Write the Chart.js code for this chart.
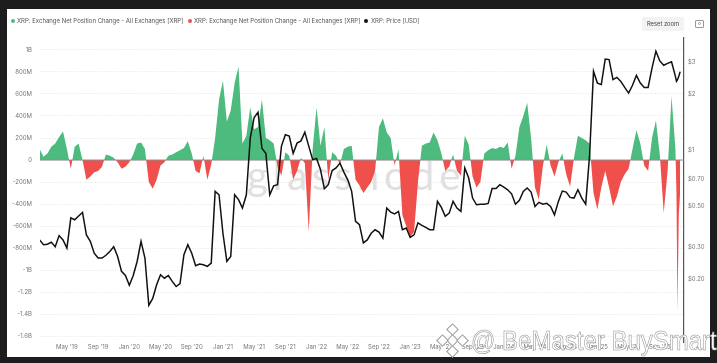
<!DOCTYPE html>
<html>
<head>
<meta charset="utf-8">
<script src="https://cdn.jsdelivr.net/npm/chart.js@4.4.1/dist/chart.umd.min.js"></script>
<style>
html, body { margin: 0; padding: 0; background: #1d1d1d; }
body { width: 717px; height: 363px; position: relative; overflow: hidden; font-family: Inter, 'Noto Sans', sans-serif; }
#panel { position: absolute; left: 7px; top: 9px; width: 703px; height: 348px; background: #fff; }
#wm { position: absolute; left: 240px; top: 146px; font-family: Lato, sans-serif; font-size: 40px; line-height: 40px; color: #e0e0e0; letter-spacing: 5px; white-space: nowrap; }
#box { position: absolute; left: 0; top: 0; width: 703px; height: 348px; }
.leg { position: absolute; top: 8px; font-size: 6px; line-height: 8px; color: #555; white-space: nowrap; }
.dot { position: absolute; top: 10px; width: 4px; height: 4px; border-radius: 50%; }
#reset { position: absolute; left: 635px; top: 8px; width: 42px; height: 14px; background: #f3f3f3; border-radius: 2px; font-size: 5.8px; line-height: 14px; text-align: center; color: #444; }
#cam { position: absolute; left: 688px; top: 11px; width: 7px; height: 6px; border: 1px solid #999; border-radius: 1px; }
#cam:after { content: ''; position: absolute; left: 1.5px; top: 1px; width: 3px; height: 3px; border: 0.8px solid #999; border-radius: 50%; box-sizing: border-box; }
#bm { position: absolute; left: 471px; top: 325px; font-family: 'Liberation Sans', sans-serif; font-size: 24px; line-height: 27px; color: #fff; -webkit-text-stroke: 0.5px #8f8f8f; white-space: nowrap; transform: scaleY(1.15); transform-origin: left top; }
.bn { position: absolute; width: 7px; height: 7px; background: #fff; border: 0.8px solid #999; transform: rotate(45deg); }
</style>
</head>
<body>
<div id="panel">
  <div id="wm">glassnode</div>
  <div id="box"><canvas id="chart"></canvas></div>
  <div class="dot" style="left:4px;background:#4dba7e"></div>
  <div class="leg" style="left:10px">XRP: Exchange Net Position Change - All Exchanges [XRP]</div>
  <div class="dot" style="left:181px;background:#f0504b"></div>
  <div class="leg" style="left:187px">XRP: Exchange Net Position Change - All Exchanges [XRP]</div>
  <div class="dot" style="left:357px;background:#111"></div>
  <div class="leg" style="left:364px">XRP: Price [USD]</div>
  <div id="reset">Reset zoom</div>
  <div id="cam"></div>
</div>
<div class="bn" style="left:448px;top:336px"></div>
<div class="bn" style="left:448px;top:325px"></div>
<div class="bn" style="left:448px;top:347px"></div>
<div class="bn" style="left:438px;top:336px"></div>
<div class="bn" style="left:458px;top:336px"></div>
<div id="bm">@ BeMaster BuySmart</div>
<script>
// sample dates (1st and 16th of each month, extra points for the last spike)
const dates = [
  '2019-01-16','2019-02-01','2019-02-16','2019-03-01','2019-03-16','2019-04-01','2019-04-16','2019-05-01','2019-05-16','2019-06-01','2019-06-16','2019-07-01','2019-07-16','2019-08-01','2019-08-16','2019-09-01','2019-09-16','2019-10-01','2019-10-16','2019-11-01','2019-11-16','2019-12-01','2019-12-16',
  '2020-01-01','2020-01-16','2020-02-01','2020-02-16','2020-03-01','2020-03-16','2020-04-01','2020-04-16','2020-05-01','2020-05-16','2020-06-01','2020-06-16','2020-07-01','2020-07-16','2020-08-01','2020-08-16','2020-09-01','2020-09-16','2020-10-01','2020-10-16','2020-11-01','2020-11-16','2020-12-01','2020-12-16',
  '2021-01-01','2021-01-16','2021-02-01','2021-02-16','2021-03-01','2021-03-16','2021-04-01','2021-04-16','2021-05-01','2021-05-16','2021-06-01','2021-06-16','2021-07-01','2021-07-16','2021-08-01','2021-08-16','2021-09-01','2021-09-16','2021-10-01','2021-10-16','2021-11-01','2021-11-16','2021-12-01','2021-12-16',
  '2022-01-01','2022-01-16','2022-02-01','2022-02-16','2022-03-01','2022-03-16','2022-04-01','2022-04-16','2022-05-01','2022-05-16','2022-06-01','2022-06-16','2022-07-01','2022-07-16','2022-08-01','2022-08-16','2022-09-01','2022-09-16','2022-10-01','2022-10-16','2022-11-01','2022-11-16','2022-12-01','2022-12-16',
  '2023-01-01','2023-01-16','2023-02-01','2023-02-16','2023-03-01','2023-03-16','2023-04-01','2023-04-16','2023-05-01','2023-05-16','2023-06-01','2023-06-16','2023-07-01','2023-07-16','2023-08-01','2023-08-16','2023-09-01','2023-09-16','2023-10-01','2023-10-16','2023-11-01','2023-11-16','2023-12-01','2023-12-16',
  '2024-01-01','2024-01-16','2024-02-01','2024-02-16','2024-03-01','2024-03-16','2024-04-01','2024-04-16','2024-05-01','2024-05-16','2024-06-01','2024-06-16','2024-07-01','2024-07-16','2024-08-01','2024-08-16','2024-09-01','2024-09-16','2024-10-01','2024-10-16','2024-11-01','2024-11-16','2024-12-01','2024-12-16',
  '2025-01-01','2025-01-16','2025-02-01','2025-02-16','2025-03-01','2025-03-16','2025-04-01','2025-04-16','2025-05-01','2025-05-16','2025-06-01','2025-06-16','2025-07-01','2025-07-16','2025-08-01','2025-08-16','2025-09-01','2025-09-16','2025-10-01','2025-10-16','2025-11-01','2025-11-05','2025-11-09','2025-11-14','2025-11-19'
];

// exchange net position change, millions of XRP
const netFlow = [
  100,30,60,120,150,210,260,100,-80,120,150,0,-180,-150,-110,-100,-60,50,40,20,-20,-80,-60,
  -20,50,150,160,100,-200,-260,-180,-50,-20,40,50,70,90,110,170,60,-100,-120,40,-180,-40,200,550,
  720,350,450,700,850,150,220,480,280,300,550,200,180,150,-60,-140,70,40,-180,-100,20,-30,-650,100,
  480,130,300,-180,70,40,-40,100,120,130,-180,-230,-300,-250,-200,-100,300,380,250,200,-50,100,-500,-600,
  -700,-650,-200,130,150,160,250,180,60,-100,-60,50,-100,-140,220,140,-150,-250,-200,60,90,110,100,120,
  110,160,-80,40,300,400,520,200,-250,-360,-60,140,-50,-150,-20,60,-130,-240,20,220,200,180,150,-300,
  -450,-250,-100,-250,-420,-330,-200,-130,-80,100,270,150,-50,-100,200,360,50,-480,-100,580,100,-300,-1380,-500,-300
];

// price, USD
const price = [
  0.327,0.308,0.31,0.318,0.30,0.345,0.327,0.295,0.43,0.42,0.44,0.46,0.348,0.321,0.277,0.261,0.261,0.27,0.283,0.30,0.266,0.221,0.21,
  0.186,0.21,0.25,0.321,0.261,0.145,0.158,0.187,0.212,0.203,0.21,0.195,0.183,0.19,0.272,0.308,0.277,0.237,0.242,0.24,0.235,0.245,0.598,0.573,
  0.355,0.25,0.266,0.573,0.54,0.486,0.573,1.16,1.5,1.6,1.02,0.96,0.573,0.64,0.65,1.05,1.21,1.19,0.96,1.09,1.12,1.25,1.05,0.887,
  0.9,0.785,0.618,0.65,0.775,0.8,0.85,0.76,0.69,0.598,0.412,0.395,0.315,0.327,0.355,0.371,0.36,0.334,0.486,0.462,0.452,0.466,0.371,0.379,
  0.337,0.348,0.404,0.392,0.382,0.371,0.371,0.528,0.49,0.438,0.456,0.528,0.486,0.466,0.80,0.706,0.55,0.506,0.51,0.51,0.515,0.62,0.62,0.65,
  0.63,0.61,0.58,0.51,0.535,0.598,0.624,0.593,0.496,0.522,0.51,0.515,0.496,0.447,0.528,0.60,0.593,0.555,0.55,0.61,0.55,0.51,0.94,2.66,
  2.3,2.26,3.1,3.08,2.4,2.47,2.35,2.18,2.03,2.24,2.53,2.3,2.18,2.18,2.77,3.42,3.03,2.87,2.94,3.0,2.5,2.35,2.4,2.5,2.65
];

const xTickDates = ['2019-05-01','2019-09-01','2020-01-01','2020-05-01','2020-09-01','2021-01-01','2021-05-01','2021-09-01','2022-01-01','2022-05-01','2022-09-01','2023-01-01','2023-05-01','2023-09-01','2024-01-01','2024-05-01','2024-09-01','2025-01-01','2025-05-01','2025-09-01'];
const xTickLabels = ["May '19","Sep '19","Jan '20","May '20","Sep '20","Jan '21","May '21","Sep '21","Jan '22","May '22","Sep '22","Jan '23","May '23","Sep '23","Jan '24","May '24","Sep '24","Jan '25","May '25","Sep '25"];

const flowTicks = [-1600,-1400,-1200,-1000,-800,-600,-400,-200,0,200,400,600,800,1000];
const flowTickLabels = ['-1.6B','-1.4B','-1.2B','-1B','-800M','-600M','-400M','-200M','0','200M','400M','600M','800M','1B'];

const priceTicks = [0.2,0.3,0.5,0.7,1,2,3];
const priceTickLabels = ['$0.20','$0.30','$0.50','$0.70','$1','$2','$3'];

const GREEN = '#4dba7e';
const RED = '#f0504b';

//date string -> months since Jan 2019
function toMonth(s) {
    const [y, m, d] = s.split('-').map(Number);
    return (y - 2019) * 12 + (m - 1) + (d - 1) / 30;
}

const flowPoints = dates.map((d, i) => ({x: toMonth(d), y: netFlow[i]}));
const pricePoints = dates.map((d, i) => ({x: toMonth(d), y: price[i]}));

const tickFont = {family: 'Inter', size: 6};

// solid zero line, drawn over the flow areas but under the price
const zeroLine = {
    id: 'zeroLine',
    afterDatasetDraw(chart, args) {
        if (args.index !== 1) return;
        const y = chart.scales.flow.getPixelForValue(0);
        const {left, right} = chart.chartArea;
        const ctx = chart.ctx;
        ctx.save();
        ctx.strokeStyle = '#8d8d8d';
        ctx.lineWidth = 1;
        ctx.beginPath();
        ctx.moveTo(left, y);
        ctx.lineTo(right, y);
        ctx.stroke();
        ctx.restore();
    }
};

new Chart(document.getElementById('chart'), {
    type: 'line',
    data: {
        datasets: [{
            label: 'XRP: Price [USD]',
            data: pricePoints,
            yAxisID: 'price',
            borderColor: '#111',
            borderWidth: 1.5,
            pointRadius: 0,
            fill: false
        }, {
            label: 'XRP: Exchange Net Position Change - All Exchanges [XRP]',
            data: flowPoints,
            yAxisID: 'flow',
            borderColor: 'rgba(0,0,0,0)',
            borderWidth: 0,
            pointRadius: 0,
            fill: {target: 'origin', above: GREEN, below: 'rgba(0,0,0,0)'}
        }, {
            label: 'XRP: Exchange Net Position Change - All Exchanges [XRP]',
            data: flowPoints,
            yAxisID: 'flow',
            borderColor: 'rgba(0,0,0,0)',
            borderWidth: 0,
            pointRadius: 0,
            fill: {target: 'origin', above: 'rgba(0,0,0,0)', below: RED}
        }]
    },
    options: {
        responsive: true,
        maintainAspectRatio: false,
        animation: false,
        layout: {padding: {top: 29, left: 0, right: 0, bottom: 0}},
        plugins: {
            legend: {display: false},
            tooltip: {enabled: false}
        },
        scales: {
            x: {
                type: 'linear',
                min: 0.55,
                max: 83.1,
                afterBuildTicks: scale => { scale.ticks = xTickDates.map(d => ({value: toMonth(d)})); },
                afterFit: scale => { scale.height = 15; },
                grid: {display: false, drawTicks: false},
                border: {display: false},
                ticks: {
                    callback: (v, i) => xTickLabels[i],
                    font: tickFont,
                    color: '#777',
                    padding: 2,
                    maxRotation: 0,
                    autoSkip: false
                }
            },
            flow: {
                type: 'linear',
                position: 'left',
                min: -1652,
                max: 1108,
                afterBuildTicks: scale => { scale.ticks = flowTicks.map(v => ({value: v})); },
                afterFit: scale => { scale.width = 33; },
                grid: {color: '#e6e6e6', drawTicks: false},
                border: {display: false, dash: [1, 1.5]},
                ticks: {
                    callback: (v, i) => flowTickLabels[i],
                    font: tickFont,
                    color: '#777',
                    padding: 8
                }
            },
            price: {
                type: 'logarithmic',
                position: 'right',
                min: 0.0918,
                max: 4.03,
                afterBuildTicks: scale => { scale.ticks = priceTicks.map(v => ({value: v})); },
                afterFit: scale => { scale.width = 26; },
                grid: {display: false, drawTicks: false},
                border: {display: true, color: '#555', width: 1.2},
                ticks: {
                    callback: (v, i) => priceTickLabels[i],
                    font: tickFont,
                    color: '#777',
                    padding: 4
                }
            }
        }
    },
    plugins: [zeroLine]
});
</script>
</body>
</html>
